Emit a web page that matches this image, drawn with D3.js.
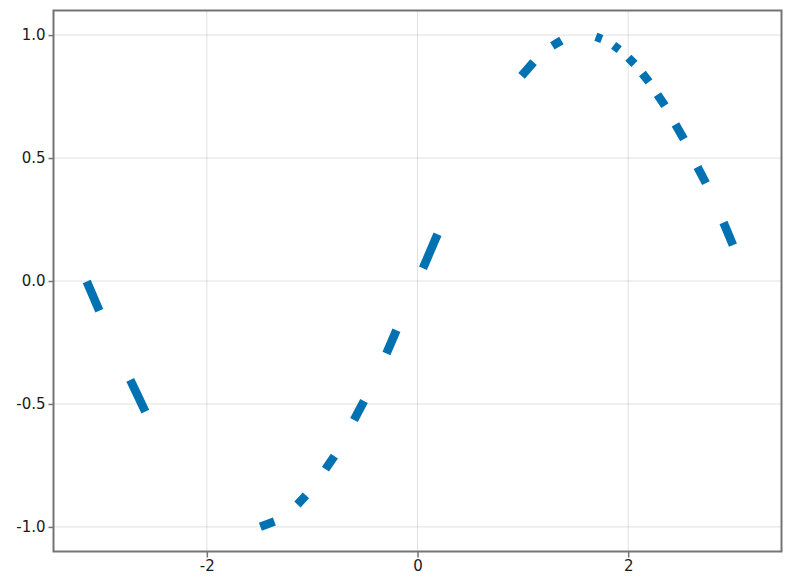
<!DOCTYPE html>
<html>
<head>
<meta charset="utf-8">
<script src="https://cdn.jsdelivr.net/npm/d3@7"></script>
<style>
  html, body { margin: 0; padding: 0; background: #fff; }
  svg { display: block; }
</style>
</head>
<body>
<svg id="chart" width="789" height="588"></svg>
<script>
// Dash segments of the curve (data units)
const dashX0 = [-3.140, -2.727, -1.492, -1.140, -0.874, -0.603, -0.295, 0.052, 0.988, 1.280, 1.693, 1.862, 2.002, 2.135, 2.278, 2.449, 2.658, 2.905];
const dashY0 = [-0.002, -0.402, -0.999, -0.909, -0.765, -0.565, -0.295, 0.052, 0.834, 0.956, 0.993, 0.958, 0.908, 0.844, 0.758, 0.637, 0.464, 0.238];
const dashX1 = [-3.021, -2.584, -1.359, -1.059, -0.789, -0.508, -0.200, 0.190, 1.102, 1.366, 1.750, 1.915, 2.060, 2.198, 2.349, 2.529, 2.738, 2.995];
const dashY1 = [-0.121, -0.531, -0.978, -0.872, -0.712, -0.488, -0.200, 0.190, 0.890, 0.978, 0.984, 0.941, 0.883, 0.810, 0.713, 0.577, 0.398, 0.146];

const xTicks = [-2, 0, 2];
const xTickLabels = ["-2", "0", "2"];
const yTicks = [-1, -0.5, 0, 0.5, 1];
const yTickLabels = ["-1.0", "-0.5", "0.0", "0.5", "1.0"];
const xDomain = [-1.1 * Math.PI, 1.1 * Math.PI];
const yDomain = [-1.1, 1.1];

const W = 789, H = 588;
const margin = { left: 53.5, right: 7.5, top: 10.5, bottom: 36.5 };
const svg = d3.select("#chart");

const x = d3.scaleLinear().domain(xDomain).range([margin.left, W - margin.right]);
const y = d3.scaleLinear().domain(yDomain).range([H - margin.bottom, margin.top]);

// grid
const grid = svg.append("g");
grid.selectAll("line.gx").data(xTicks).join("line")
  .attr("x1", d => x(d)).attr("x2", d => x(d))
  .attr("y1", margin.top).attr("y2", H - margin.bottom)
  .attr("stroke", "rgba(0,0,0,0.12)").attr("stroke-width", 1);
grid.selectAll("line.gy").data(yTicks).join("line")
  .attr("y1", d => y(d)).attr("y2", d => y(d))
  .attr("x1", margin.left).attr("x2", W - margin.right)
  .attr("stroke", "rgba(0,0,0,0.12)").attr("stroke-width", 1);

// dashes
const dashes = dashX0.map((d, i) => [[dashX0[i], dashY0[i]], [dashX1[i], dashY1[i]]]);
const line = d3.line().x(d => x(d[0])).y(d => y(d[1]));
svg.append("g").selectAll("path").data(dashes).join("path")
  .attr("d", line)
  .attr("fill", "none")
  .attr("stroke", "rgb(0,114,178)")
  .attr("stroke-width", 8.6)
  .attr("stroke-linecap", "butt");

// frame
svg.append("rect")
  .attr("x", margin.left).attr("y", margin.top)
  .attr("width", W - margin.left - margin.right)
  .attr("height", H - margin.top - margin.bottom)
  .attr("fill", "none").attr("stroke", "#747474").attr("stroke-width", 2);

// axes
const xAxis = d3.axisBottom(x).tickValues(xTicks)
  .tickFormat((d, i) => xTickLabels[i]).tickSize(6).tickPadding(3).tickSizeOuter(0);
const yAxis = d3.axisLeft(y).tickValues(yTicks)
  .tickFormat((d, i) => yTickLabels[i]).tickSize(5).tickPadding(3).tickSizeOuter(0);

const gx = svg.append("g").attr("transform", `translate(0,${H - margin.bottom})`).call(xAxis);
const gy = svg.append("g").attr("transform", `translate(${margin.left},0)`).call(yAxis);
[gx, gy].forEach(g => {
  g.select(".domain").remove();
  g.selectAll(".tick line").attr("stroke", "#747474").attr("stroke-width", 1.5);
  g.selectAll(".tick text").attr("fill", "#1a1a1a")
    .style("font-family", "'DejaVu Sans', sans-serif").style("font-size", "15px");
});
</script>
</body>
</html>
